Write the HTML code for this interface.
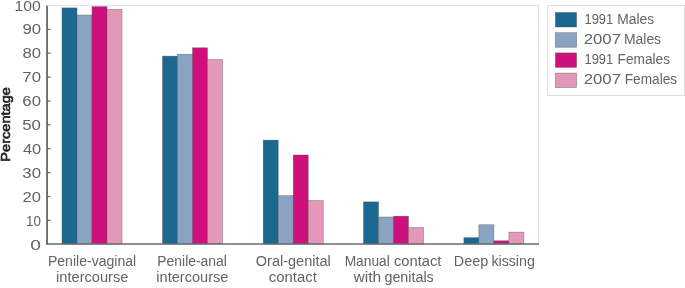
<!DOCTYPE html>
<html lang="en"><head><meta charset="utf-8"><title>Chart</title>
<style>
html,body{margin:0;padding:0;background:#fff;}
body{width:685px;height:288px;overflow:hidden;}
svg{display:block;}
text{font-family:"Liberation Sans",sans-serif;}
.t{font-size:14px;fill:#626365;}
.b{font-size:13.5px;fill:#231f20;stroke:#231f20;stroke-width:.65px;}
</style></head><body>
<svg width="685" height="288" viewBox="0 0 685 288">
<rect width="685" height="288" fill="#fff"/>
<path d="M47 5.7H538.5V244" fill="none" stroke="#dedede" stroke-width="1"/>
<rect x="62.0" y="7.9" width="15.0" height="236.1" fill="#1b6890" stroke="#505053" stroke-opacity=".75" stroke-width="0.5"/>
<rect x="77.0" y="15.0" width="15.0" height="229.0" fill="#8aa3c2" stroke="#505053" stroke-opacity=".75" stroke-width="0.5"/>
<rect x="92.0" y="6.7" width="15.0" height="237.3" fill="#cf107c" stroke="#505053" stroke-opacity=".75" stroke-width="0.5"/>
<rect x="107.0" y="9.4" width="15.0" height="234.6" fill="#e498b9" stroke="#505053" stroke-opacity=".75" stroke-width="0.5"/>
<rect x="162.5" y="56.1" width="15.0" height="187.9" fill="#1b6890" stroke="#505053" stroke-opacity=".75" stroke-width="0.5"/>
<rect x="177.5" y="54.2" width="15.0" height="189.8" fill="#8aa3c2" stroke="#505053" stroke-opacity=".75" stroke-width="0.5"/>
<rect x="192.5" y="47.8" width="15.0" height="196.2" fill="#cf107c" stroke="#505053" stroke-opacity=".75" stroke-width="0.5"/>
<rect x="207.5" y="59.6" width="15.0" height="184.3" fill="#e498b9" stroke="#505053" stroke-opacity=".75" stroke-width="0.5"/>
<rect x="263.2" y="140.1" width="15.0" height="103.9" fill="#1b6890" stroke="#505053" stroke-opacity=".75" stroke-width="0.5"/>
<rect x="278.2" y="195.7" width="15.0" height="48.3" fill="#8aa3c2" stroke="#505053" stroke-opacity=".75" stroke-width="0.5"/>
<rect x="293.2" y="155.0" width="15.0" height="89.0" fill="#cf107c" stroke="#505053" stroke-opacity=".75" stroke-width="0.5"/>
<rect x="308.2" y="200.6" width="15.0" height="43.4" fill="#e498b9" stroke="#505053" stroke-opacity=".75" stroke-width="0.5"/>
<rect x="363.5" y="201.9" width="15.0" height="42.1" fill="#1b6890" stroke="#505053" stroke-opacity=".75" stroke-width="0.5"/>
<rect x="378.5" y="217.0" width="15.0" height="27.0" fill="#8aa3c2" stroke="#505053" stroke-opacity=".75" stroke-width="0.5"/>
<rect x="393.5" y="216.2" width="15.0" height="27.8" fill="#cf107c" stroke="#505053" stroke-opacity=".75" stroke-width="0.5"/>
<rect x="408.5" y="227.5" width="15.0" height="16.5" fill="#e498b9" stroke="#505053" stroke-opacity=".75" stroke-width="0.5"/>
<rect x="463.9" y="237.7" width="15.0" height="6.3" fill="#1b6890" stroke="#505053" stroke-opacity=".75" stroke-width="0.5"/>
<rect x="478.9" y="224.8" width="15.0" height="19.2" fill="#8aa3c2" stroke="#505053" stroke-opacity=".75" stroke-width="0.5"/>
<rect x="493.9" y="240.8" width="15.0" height="3.2" fill="#cf107c" stroke="#505053" stroke-opacity=".75" stroke-width="0.5"/>
<rect x="508.9" y="232.1" width="15.0" height="11.9" fill="#e498b9" stroke="#505053" stroke-opacity=".75" stroke-width="0.5"/>
<path d="M47.05 5.8V244.8" fill="none" stroke="#696a70" stroke-width="1.85"/>
<path d="M46.2 244H539" fill="none" stroke="#696a70" stroke-width="1.6"/>
<path d="M47 220.3H50.5" stroke="#6d6e73" stroke-width="1.3"/>
<path d="M47 196.5H50.5" stroke="#6d6e73" stroke-width="1.3"/>
<path d="M47 172.6H50.5" stroke="#6d6e73" stroke-width="1.3"/>
<path d="M47 148.7H50.5" stroke="#6d6e73" stroke-width="1.3"/>
<path d="M47 124.8H50.5" stroke="#6d6e73" stroke-width="1.3"/>
<path d="M47 101.0H50.5" stroke="#6d6e73" stroke-width="1.3"/>
<path d="M47 77.1H50.5" stroke="#6d6e73" stroke-width="1.3"/>
<path d="M47 53.2H50.5" stroke="#6d6e73" stroke-width="1.3"/>
<path d="M47 29.4H50.5" stroke="#6d6e73" stroke-width="1.3"/>
<text class="b" transform="translate(10 124.35) rotate(-90)" text-anchor="middle" textLength="74.6" lengthAdjust="spacingAndGlyphs">Percentage</text>
<rect x="547.5" y="5.5" width="137" height="90" fill="#fff" stroke="#dedede" stroke-width="1"/>
<rect x="555.4" y="12.5" width="21.2" height="14.5" fill="#1b6890" stroke="#505053" stroke-opacity=".75" stroke-width="0.5"/>
<rect x="555.4" y="32.7" width="21.2" height="14.5" fill="#8aa3c2" stroke="#505053" stroke-opacity=".75" stroke-width="0.5"/>
<rect x="555.4" y="52.9" width="21.2" height="14.5" fill="#cf107c" stroke="#505053" stroke-opacity=".75" stroke-width="0.5"/>
<rect x="555.4" y="73.1" width="21.2" height="14.5" fill="#e498b9" stroke="#505053" stroke-opacity=".75" stroke-width="0.5"/>
<text class="t" y="250.0"><tspan x="30.38" textLength="10.72" lengthAdjust="spacingAndGlyphs">0</tspan></text>
<text class="t" y="226.0"><tspan x="25.98" textLength="14.92" lengthAdjust="spacingAndGlyphs">10</tspan></text>
<text class="t" y="202.0"><tspan x="22.45" textLength="18.44" lengthAdjust="spacingAndGlyphs">20</tspan></text>
<text class="t" y="178.0"><tspan x="22.32" textLength="18.71" lengthAdjust="spacingAndGlyphs">30</tspan></text>
<text class="t" y="154.0"><tspan x="22.91" textLength="18.32" lengthAdjust="spacingAndGlyphs">40</tspan></text>
<text class="t" y="130.0"><tspan x="22.19" textLength="18.70" lengthAdjust="spacingAndGlyphs">50</tspan></text>
<text class="t" y="106.0"><tspan x="22.33" textLength="18.68" lengthAdjust="spacingAndGlyphs">60</tspan></text>
<text class="t" y="82.0"><tspan x="22.33" textLength="18.71" lengthAdjust="spacingAndGlyphs">70</tspan></text>
<text class="t" y="58.4"><tspan x="22.45" textLength="18.55" lengthAdjust="spacingAndGlyphs">80</tspan></text>
<text class="t" y="34.3"><tspan x="22.45" textLength="18.63" lengthAdjust="spacingAndGlyphs">90</tspan></text>
<text class="t" y="10.7"><tspan x="14.64" textLength="26.24" lengthAdjust="spacingAndGlyphs">100</tspan></text>
<text class="t" y="266.2"><tspan x="47.91" textLength="88.35" lengthAdjust="spacingAndGlyphs">Penile-vaginal</tspan></text>
<text class="t" y="282.4"><tspan x="56.14" textLength="72.23" lengthAdjust="spacingAndGlyphs">intercourse</tspan></text>
<text class="t" y="266.2"><tspan x="157.28" textLength="69.70" lengthAdjust="spacingAndGlyphs">Penile-anal</tspan></text>
<text class="t" y="282.4"><tspan x="156.36" textLength="72.02" lengthAdjust="spacingAndGlyphs">intercourse</tspan></text>
<text class="t" y="266.2"><tspan x="255.79" textLength="74.98" lengthAdjust="spacingAndGlyphs">Oral-genital</tspan></text>
<text class="t" y="282.4"><tspan x="268.75" textLength="48.05" lengthAdjust="spacingAndGlyphs">contact</tspan></text>
<text class="t" y="266.2"><tspan x="344.68" textLength="45.08" lengthAdjust="spacingAndGlyphs">Manual</tspan> <tspan x="393.97" textLength="47.50" lengthAdjust="spacingAndGlyphs">contact</tspan></text>
<text class="t" y="282.4"><tspan x="353.51" textLength="27.65" lengthAdjust="spacingAndGlyphs">with</tspan> <tspan x="384.46" textLength="49.28" lengthAdjust="spacingAndGlyphs">genitals</tspan></text>
<text class="t" y="266.2"><tspan x="453.80" textLength="34.35" lengthAdjust="spacingAndGlyphs">Deep</tspan> <tspan x="491.40" textLength="43.40" lengthAdjust="spacingAndGlyphs">kissing</tspan></text>
<text class="t" y="24.1"><tspan x="584.48" textLength="28.66" lengthAdjust="spacingAndGlyphs">1991</tspan> <tspan x="617.21" textLength="36.89" lengthAdjust="spacingAndGlyphs">Males</tspan></text>
<text class="t" y="44.2"><tspan x="583.79" textLength="37.19" lengthAdjust="spacingAndGlyphs">2007</tspan> <tspan x="623.98" textLength="37.11" lengthAdjust="spacingAndGlyphs">Males</tspan></text>
<text class="t" y="64.3"><tspan x="584.48" textLength="28.66" lengthAdjust="spacingAndGlyphs">1991</tspan> <tspan x="617.57" textLength="52.40" lengthAdjust="spacingAndGlyphs">Females</tspan></text>
<text class="t" y="84.4"><tspan x="583.79" textLength="37.19" lengthAdjust="spacingAndGlyphs">2007</tspan> <tspan x="624.77" textLength="52.36" lengthAdjust="spacingAndGlyphs">Females</tspan></text>
</svg>
</body></html>
